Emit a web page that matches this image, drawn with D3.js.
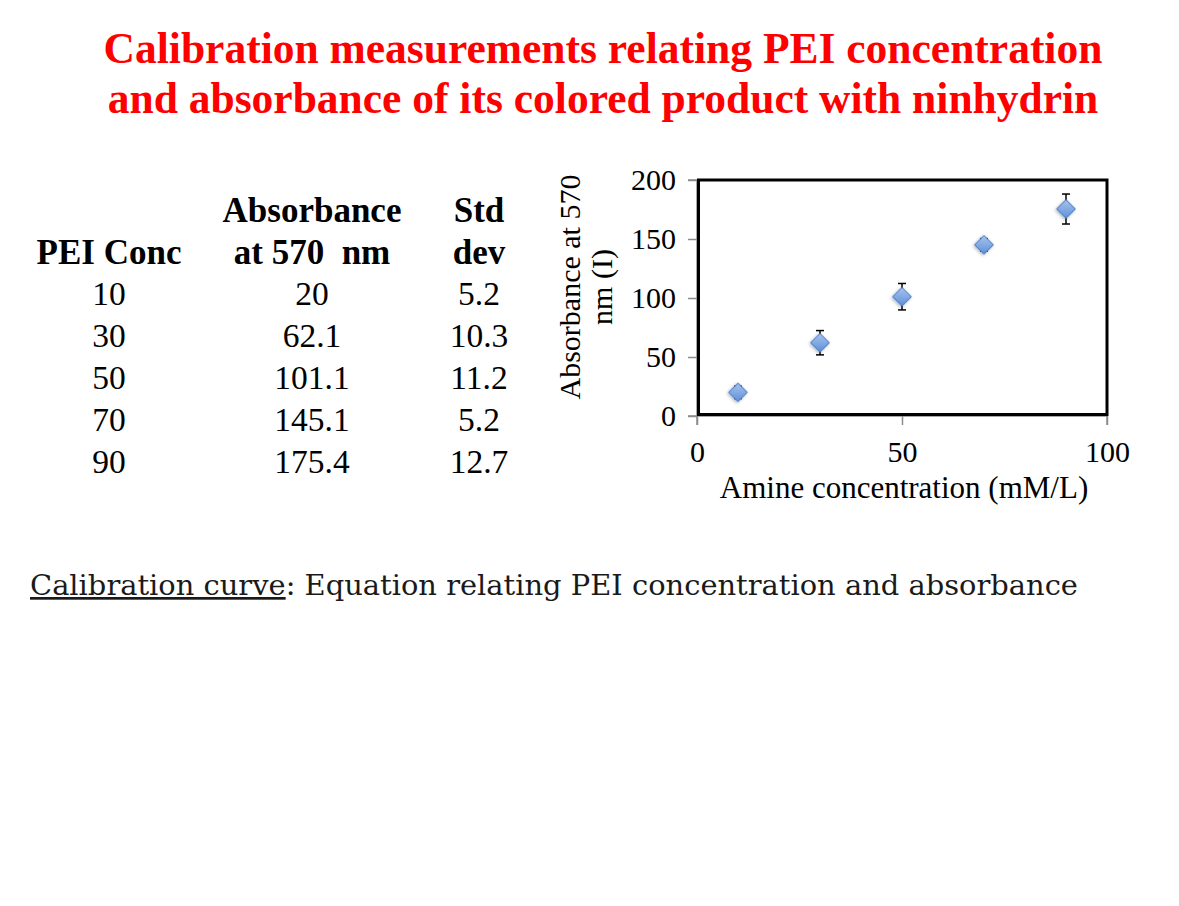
<!DOCTYPE html>
<html>
<head>
<meta charset="utf-8">
<script src="https://cdn.jsdelivr.net/npm/d3@7"></script>
<style>
  html, body { margin: 0; padding: 0; background: #fff; }
  svg { display: block; }
  text { white-space: pre; }
</style>
</head>
<body>
<svg id="chart" width="1179" height="906"></svg>
<script>
// ---- data ----
const titleLines = ["Calibration measurements relating PEI concentration",
                    "and absorbance of its colored product with ninhydrin"];
const tableHeaders = [["", "PEI Conc"], ["Absorbance", "at 570  nm"], ["Std", "dev"]];
const peiConc = [10, 30, 50, 70, 90];
const absorbance = [20, 62.1, 101.1, 145.1, 175.4];
const stdDev = [5.2, 10.3, 11.2, 5.2, 12.7];
const absorbanceLabels = ["20", "62.1", "101.1", "145.1", "175.4"];
const stdDevLabels = ["5.2", "10.3", "11.2", "5.2", "12.7"];
const xTicks = [0, 50, 100];
const yTicks = [0, 50, 100, 150, 200];
const xLabel = "Amine concentration (mM/L)";
const yLabelLines = ["Absorbance at 570", "nm (I)"];
const noteUnderlined = "Calibration curve";
const noteRest = ": Equation relating PEI concentration and absorbance";

const svg = d3.select("#chart");
const serif = "'Liberation Serif', 'Times New Roman', serif";

// ---- title ----
svg.append("g").selectAll("text").data(titleLines).join("text")
  .attr("x", 603).attr("y", (d, i) => 63 + i * 50)
  .attr("text-anchor", "middle")
  .attr("font-family", serif).attr("font-weight", "bold")
  .attr("font-size", 43.5).attr("fill", "#ff0000")
  .text(d => d);

// ---- table ----
const colX = [109, 312, 479];
const table = svg.append("g").attr("font-family", serif).attr("fill", "#000");
tableHeaders.forEach((h, c) => {
  h.forEach((t, r) => {
    if (!t) return;
    table.append("text").attr("x", colX[c]).attr("y", 222 + r * 42)
      .attr("text-anchor", "middle").attr("font-weight", "bold")
      .attr("font-size", 35).text(t);
  });
});
const rows = peiConc.map((d, i) => [String(d), absorbanceLabels[i], stdDevLabels[i]]);
rows.forEach((row, r) => {
  row.forEach((t, c) => {
    table.append("text").attr("x", colX[c]).attr("y", 305 + r * 42)
      .attr("text-anchor", "middle").attr("font-size", 33.5).text(t);
  });
});

// ---- chart ----
const L = 697, R = 1107, T = 180, B = 416;
const x = d3.scaleLinear().domain([0, 100]).range([L, R]);
const y = d3.scaleLinear().domain([0, 200]).range([B, T]);

const defs = svg.append("defs");
const grad = defs.append("linearGradient").attr("id", "mk")
  .attr("x1", 0).attr("y1", 0).attr("x2", 1).attr("y2", 1);
grad.append("stop").attr("offset", "0%").attr("stop-color", "#a6c4ef");
grad.append("stop").attr("offset", "100%").attr("stop-color", "#5f90d8");
const flt = defs.append("filter").attr("id", "sh").attr("x", "-50%").attr("y", "-50%").attr("width", "200%").attr("height", "200%");
flt.append("feDropShadow").attr("dx", 0).attr("dy", 1.5).attr("stdDeviation", 1.5).attr("flood-color", "#000").attr("flood-opacity", 0.3);

// axes (gray ticks)
const yAxis = svg.append("g").attr("transform", `translate(${L},0)`)
  .call(d3.axisLeft(y).tickValues(yTicks).tickSize(9).tickPadding(12));
const xAxis = svg.append("g").attr("transform", `translate(0,${B})`)
  .call(d3.axisBottom(x).tickValues(xTicks).tickSize(9).tickPadding(16));
[yAxis, xAxis].forEach(a => {
  a.select(".domain").attr("stroke", "#8c8c8c").attr("stroke-width", 1.5);
  a.selectAll(".tick line").attr("stroke", "#8c8c8c").attr("stroke-width", 1.5);
  a.selectAll(".tick text").attr("font-family", serif).attr("font-size", 30).attr("fill", "#000");
});
xAxis.select(".domain").attr("d", `M${L},9V0H${R}V9`);
yAxis.select(".domain").attr("d", `M-9,${T}H0V${B}H-9`);

// plot frame
svg.append("rect").attr("x", L + 1.5).attr("y", T).attr("width", R - L - 1.5).attr("height", B - T - 1.5)
  .attr("fill", "none").attr("stroke", "#000").attr("stroke-width", 3);

// error bars
const eb = svg.append("g").attr("stroke", "#000").attr("stroke-width", 1.5);
peiConc.forEach((c, i) => {
  const cx = x(c), y1 = y(absorbance[i] + stdDev[i]), y2 = y(absorbance[i] - stdDev[i]);
  eb.append("line").attr("x1", cx).attr("x2", cx).attr("y1", y1).attr("y2", y2);
  eb.append("line").attr("x1", cx - 4).attr("x2", cx + 4).attr("y1", y1).attr("y2", y1);
  eb.append("line").attr("x1", cx - 4).attr("x2", cx + 4).attr("y1", y2).attr("y2", y2);
});

// markers
const sym = d3.symbol().type(d3.symbolSquare).size(175);
svg.append("g").selectAll("path").data(peiConc).join("path")
  .attr("d", sym)
  .attr("transform", (d, i) => `translate(${x(d)},${y(absorbance[i])}) rotate(45)`)
  .attr("fill", "url(#mk)").attr("stroke", "#4f7fc4").attr("stroke-width", 1)
  .attr("filter", "url(#sh)");

// axis labels
svg.append("text").attr("x", (L + R) / 2 + 2).attr("y", 498)
  .attr("text-anchor", "middle").attr("font-family", serif).attr("font-size", 31)
  .text(xLabel);
const yl = svg.append("text").attr("transform", "translate(580,287) rotate(-90)")
  .attr("text-anchor", "middle").attr("font-family", serif).attr("font-size", 30);
yLabelLines.forEach((t, i) => yl.append("tspan").attr("x", 0).attr("dy", i === 0 ? 0 : 32).text(t));

// ---- note ----
const note = svg.append("text").attr("x", 30).attr("y", 595)
  .attr("font-family", "'DejaVu Serif', serif").attr("font-size", 27).attr("fill", "#1a1a1a")
  .attr("textLength", 1048).attr("lengthAdjust", "spacingAndGlyphs");
note.append("tspan").attr("text-decoration", "underline").text(noteUnderlined);
note.append("tspan").text(noteRest);
</script>
</body>
</html>
